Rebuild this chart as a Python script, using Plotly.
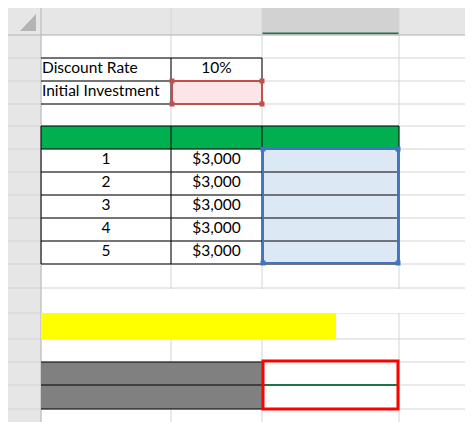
import plotly.graph_objects as go

col_letters = ["A", "B", "C", "D"]
row_numbers = list(range(4, 21))
years = [1, 2, 3, 4, 5]
cash_flows = ["$3,000", "$3,000", "$3,000", "$3,000", "$3,000"]
present_values = ["$2,727.27", "$2,479.34", "$2,253.94", "$2,049.04", "$1,862.76"]
input_labels = ["Discount Rate", "Initial Investment"]
input_values = ["10%", "$10,000"]
table_headers = ["Year", "Cash Flows", "Present Value"]
note_text = "Net Present Value is calculated using the formula given below"
formula_text = "NPV = ∑(CF<sub>n</sub> / (1 + i)<sup>n</sup>) - Initial Investment"
result_labels = ["Net Present Value Formula", "Net Present Value"]
result_formula = "=SUM(<span style='color:#4472c4'>C9:C13</span>)-<span style='color:#c0504d'>B6</span>"
result_value = "$1,372.36"

W, H = 473, 422
xb = [0, 33, 163, 254, 391, 473]          # column boundaries
row_top = {4: 27, 5: 50, 6: 73, 7: 96, 8: 118, 9: 141, 10: 164, 11: 187, 12: 210,
           13: 233, 14: 256, 15: 280, 16: 305, 17: 331, 18: 354, 19: 377, 20: 401, 21: 424}
FONT = "Lato"
SIZE = 15.5
shapes, texts = [], []

def rect(x0, y0, x1, y1, fill=None, line=None, w=1):
    shapes.append(dict(type="rect", x0=x0, y0=y0, x1=x1, y1=y1, xref="x", yref="y",
                       fillcolor=fill or "rgba(0,0,0,0)",
                       line=dict(color=line or "rgba(0,0,0,0)", width=w if line else 0)))

def hline(x0, x1, y, c, w=1):
    shapes.append(dict(type="line", x0=x0, x1=x1, y0=y, y1=y, line=dict(color=c, width=w)))

def vline(x, y0, y1, c, w=1):
    shapes.append(dict(type="line", x0=x, x1=x, y0=y0, y1=y1, line=dict(color=c, width=w)))

def text(x, y, s, anchor="center", color="black", size=SIZE, bold=False):
    if bold:
        s = "<b>" + s + "</b>"
    texts.append((x, y, s, "middle right" if anchor == "left" else "middle center", color, size))

def mid(r):
    return (row_top[r] + row_top[r + 1]) / 2

rect(0, 0, W, 27, fill="#e6e6e6")
rect(0, 0, 33, H, fill="#e6e6e6")
rect(xb[3], 0, xb[4], 26, fill="#d2d2d2")
hline(xb[3], xb[4], 25.5, "#217346", 2)
shapes.append(dict(type="path", path="M 28 6 L 28 23 L 12 23 Z", fillcolor="#b4b4b4", line=dict(width=0)))
for r in row_numbers + [21]:
    hline(0, W, row_top[r], "#d4d4d4")
for x in xb[1:5]:
    vline(x, 0, H, "#d4d4d4")
hline(0, W, 27, "#bdbdbd")
vline(33, 0, H, "#bdbdbd")

for i, c in enumerate(col_letters):
    text((xb[i + 1] + xb[i + 2]) / 2, 13, c, color="#217346" if c == "C" else "#333", size=15)
for r in row_numbers:
    text(16.5, mid(r), str(r), color="#333", size=15)

# inputs
rect(xb[2], row_top[6], xb[3], row_top[7], fill="#fbe5e6")
for r in (5, 6, 7):
    hline(xb[1], xb[3], row_top[r], "black")
vline(xb[2], row_top[5], row_top[7], "black")
vline(xb[3], row_top[5], row_top[6], "black")
rect(xb[2] + 1, row_top[6], xb[3], row_top[7], line="#c0504d", w=2)
for px, py in [(xb[2] + 1, row_top[6]), (xb[3], row_top[6]), (xb[2] + 1, row_top[7]), (xb[3], row_top[7])]:
    rect(px - 2.5, py - 2.5, px + 2.5, py + 2.5, fill="#c0504d")
for i, (lab, val) in enumerate(zip(input_labels, input_values)):
    r = 5 + i
    text(xb[1] + 1, mid(r), lab, anchor="left")
    text((xb[2] + xb[3]) / 2, mid(r), val)

# table
rect(xb[1], row_top[8], xb[4], row_top[9], fill="#00b050")
for i, h in enumerate(table_headers):
    text((xb[i + 1] + xb[i + 2]) / 2, mid(8), h, color="white", bold=True)
rect(xb[3], row_top[9], xb[4], row_top[14], fill="#dde8f5")
for r in range(8, 15):
    hline(xb[1], xb[4], row_top[r], "black")
for x in xb[1:5]:
    vline(x, row_top[8], row_top[14], "black")
rect(xb[3] + 1, row_top[9], xb[4] - 1, row_top[14] - 1, line="#4472c4", w=2)
for px, py in [(xb[3] + 1, row_top[9]), (xb[4] - 1, row_top[9]), (xb[3] + 1, row_top[14] - 1), (xb[4] - 1, row_top[14] - 1)]:
    rect(px - 2.5, py - 2.5, px + 2.5, py + 2.5, fill="#4472c4")
for i in range(5):
    r = 9 + i
    text((xb[1] + xb[2]) / 2, mid(r), str(years[i]))
    text((xb[2] + xb[3]) / 2, mid(r), cash_flows[i])
    text((xb[3] + xb[4]) / 2, mid(r), present_values[i])

# note and formula
rect(xb[1] + 1, row_top[15] + 1, W, row_top[16], fill="white")
text(xb[1] + 1, mid(15), note_text, anchor="left")
rect(xb[1], row_top[16], 328, row_top[17], fill="#ffff00")
text(xb[1] + 1, mid(16), formula_text, anchor="left", bold=True)

# results
rect(xb[1], row_top[18], xb[3], row_top[20], fill="#808080")
for r in (18, 19, 20):
    hline(xb[1], xb[3], row_top[r], "black")
for i, lab in enumerate(result_labels):
    text(xb[1] + 1, mid(18 + i), lab, anchor="left", color="white", bold=True)
rect(xb[3], row_top[18], xb[4], row_top[20], fill="white")
hline(xb[3], xb[4], row_top[19], "#217346", 2)
rect(xb[3] + 1, row_top[18] - 1, xb[4] - 1, row_top[20], line="#ff0000", w=3)
text(xb[3] + 1, mid(18), result_formula, anchor="left", bold=True)
text((xb[3] + xb[4]) / 2, mid(19), result_value, bold=True)

fig = go.Figure()
for x, y, s, pos, color, size in texts:
    fig.add_trace(go.Scatter(x=[x], y=[y], text=[s], mode="text", textposition=pos,
                             textfont=dict(family=FONT, size=size, color=color),
                             hoverinfo="skip", cliponaxis=False))
fig.update_layout(width=W, height=H, margin=dict(l=0, r=0, t=0, b=0),
                  plot_bgcolor="white", paper_bgcolor="white",
                  xaxis=dict(range=[0, W], visible=False, fixedrange=True),
                  yaxis=dict(range=[H, 0], visible=False, fixedrange=True),
                  shapes=shapes, showlegend=False)
fig.write_html("out.html", config={"displayModeBar": False})
